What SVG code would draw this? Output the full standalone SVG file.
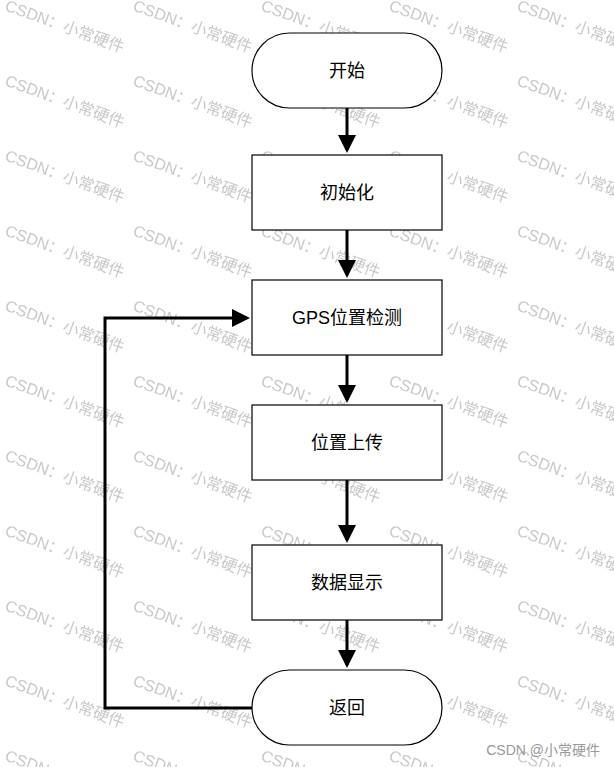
<svg xmlns="http://www.w3.org/2000/svg" width="614" height="767" viewBox="0 0 614 767">
<defs>
<style>
.n{fill:#fff;stroke:#000;stroke-width:1.2}
.t{font-family:"Liberation Sans","Noto Sans CJK SC",sans-serif;font-size:18px;text-anchor:middle;fill:#000}
.w{font-family:"Liberation Sans","Noto Sans CJK SC",sans-serif;font-size:16px;fill:#c8c8c8}
.c{stroke:#000;stroke-width:3;fill:none}
</style>
<marker id="a" markerWidth="6" markerHeight="6" refX="5" refY="3" orient="auto" markerUnits="strokeWidth"><path d="M0,0L6,3L0,6z" fill="#000"/></marker>
<pattern id="wm" width="128" height="75" patternUnits="userSpaceOnUse" x="0" y="0">
<text class="w" transform="translate(4,10) rotate(20)">CSDN：小常硬件</text>
</pattern>
</defs>
<rect width="614" height="767" fill="#fff"/>
<rect width="614" height="767" fill="url(#wm)"/>
<g id="connectors">
<path class="c" d="M347,108V150" marker-end="url(#a)"/>
<path class="c" d="M347,230V275" marker-end="url(#a)"/>
<path class="c" d="M347,355V400" marker-end="url(#a)"/>
<path class="c" d="M347,480V540" marker-end="url(#a)"/>
<path class="c" d="M347,620V665" marker-end="url(#a)"/>
<path class="c" d="M252,708H105V318H247" marker-end="url(#a)"/>
</g>
<g id="start"><rect class="n" x="252" y="33" width="190" height="75" rx="37.5"/><text class="t" x="347" y="77">开始</text></g>
<g id="init"><rect class="n" x="252" y="155" width="190" height="75"/><text class="t" x="347" y="199">初始化</text></g>
<g id="gps"><rect class="n" x="252" y="280" width="190" height="75"/><text class="t" x="347" y="324">GPS位置检测</text></g>
<g id="upload"><rect class="n" x="252" y="405" width="190" height="75"/><text class="t" x="347" y="449">位置上传</text></g>
<g id="display"><rect class="n" x="252" y="545" width="190" height="75"/><text class="t" x="347" y="589">数据显示</text></g>
<g id="back"><rect class="n" x="252" y="670" width="190" height="75" rx="37.5"/><text class="t" x="347" y="714">返回</text></g>
<text x="600" y="755" style="font-family:'Liberation Sans','Noto Sans CJK SC',sans-serif;font-size:14px;text-anchor:end;fill:#999">CSDN @小常硬件</text>
</svg>
